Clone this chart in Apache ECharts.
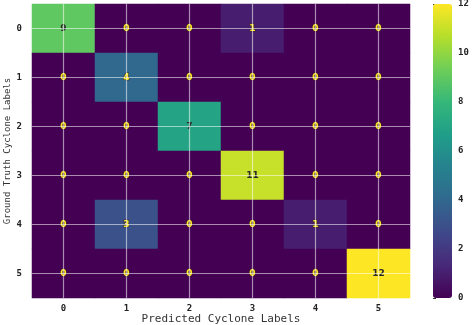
<!DOCTYPE html>
<html>
<head>
<meta charset="utf-8">
<script src="https://cdn.jsdelivr.net/npm/echarts@6/dist/echarts.min.js"></script>
<style>
  html, body { margin: 0; padding: 0; background: #fff; }
  #chart { width: 474px; height: 325px; }
</style>
</head>
<body>
<div id="chart"></div>
<script>
// Confusion matrix: rows = ground truth, columns = predicted
const predictedLabels = ['0', '1', '2', '3', '4', '5'];
const truthLabels = ['0', '1', '2', '3', '4', '5'];
const row0 = [9, 0, 0, 1, 0, 0];
const row1 = [0, 4, 0, 0, 0, 0];
const row2 = [0, 0, 7, 0, 0, 0];
const row3 = [0, 0, 0, 11, 0, 0];
const row4 = [0, 3, 0, 0, 1, 0];
const row5 = [0, 0, 0, 0, 0, 12];
const colorbarTicks = [0, 2, 4, 6, 8, 10, 12];

const matrix = [row0, row1, row2, row3, row4, row5];
const vmax = colorbarTicks[colorbarTicks.length - 1];
const cells = [];
matrix.forEach((row, r) => row.forEach((v, c) => {
  const bright = v / vmax > 0.55;
  cells.push(bright
    ? { value: [c, r, v], label: { color: '#2a2a2a', textBorderWidth: 0 } }
    : { value: [c, r, v] });
}));

const viridis = ['#440154', '#482878', '#3e4989', '#31688e', '#26828e',
  '#1f9e89', '#35b779', '#6ece58', '#b5de2b', '#fde725'];

const gridLine = { color: 'rgba(255,255,255,0.55)', width: 1.2, type: 'solid' };
const markLines = [];
predictedLabels.forEach((_, i) => markLines.push({ xAxis: i }));
truthLabels.forEach((_, i) => markLines.push({ yAxis: i }));

const tickFont = { fontFamily: 'DejaVu Sans Mono', fontWeight: 'bold', fontSize: 9, color: '#222' };

const chart = echarts.init(document.getElementById('chart'));
chart.setOption({
  animation: false,
  grid: [
    { left: 32, top: 4, width: 378, height: 294, containLabel: false, outerBoundsMode: 'none' },
    { left: 433, top: 4, width: 19, height: 294, containLabel: false, outerBoundsMode: 'none' }
  ],
  xAxis: [
    {
      gridIndex: 0, type: 'category', data: predictedLabels,
      name: 'Predicted Cyclone Labels', nameLocation: 'middle', nameGap: 16, nameMoveOverlap: false,
      nameTextStyle: { fontFamily: 'DejaVu Sans Mono', fontSize: 11, color: '#333' },
      axisLine: { show: false }, axisTick: { show: false },
      axisLabel: Object.assign({ margin: 6 }, tickFont),
      splitLine: { show: false }
    },
    { gridIndex: 1, type: 'value', show: false, min: 0, max: 1 }
  ],
  yAxis: [
    {
      gridIndex: 0, type: 'category', data: truthLabels, inverse: true,
      name: 'Ground Truth Cyclone Labels', nameLocation: 'middle', nameGap: 20, nameRotate: 90,
      nameMoveOverlap: false,
      nameTextStyle: { fontFamily: 'DejaVu Sans Mono', fontSize: 9, color: '#333' },
      axisLine: { show: false }, axisTick: { show: false },
      axisLabel: Object.assign({ margin: 10 }, tickFont),
      splitLine: { show: false }
    },
    {
      gridIndex: 1, type: 'value', position: 'right', min: 0, max: vmax, interval: 2,
      axisLine: { show: false },
      axisTick: { show: true, length: 3, lineStyle: { color: '#333' } },
      axisLabel: Object.assign({ margin: 6 }, tickFont),
      splitLine: { show: false }
    }
  ],
  visualMap: {
    type: 'continuous', seriesIndex: 0, min: 0, max: vmax,
    orient: 'vertical', left: 433, top: 4, padding: 0,
    itemWidth: 19, itemHeight: 294, calculable: false, text: null,
    showLabel: false, indicatorSize: 0, hoverLink: false,
    inRange: { color: viridis }
  },
  series: [
    {
      type: 'heatmap', xAxisIndex: 0, yAxisIndex: 0, data: cells,
      label: {
        show: true, fontFamily: 'DejaVu Sans', fontWeight: 'bold', fontSize: 9,
        formatter: p => String(p.value[2]),
        color: '#fde725', textBorderColor: 'rgba(60,40,20,0.6)', textBorderWidth: 1.5
      },
      itemStyle: { borderWidth: 0 },
      emphasis: { disabled: true },
      markLine: {
        silent: true, symbol: 'none', label: { show: false },
        lineStyle: gridLine, data: markLines
      }
    },
    { type: 'scatter', xAxisIndex: 1, yAxisIndex: 1, data: [] }
  ]
});
</script>
</body>
</html>
